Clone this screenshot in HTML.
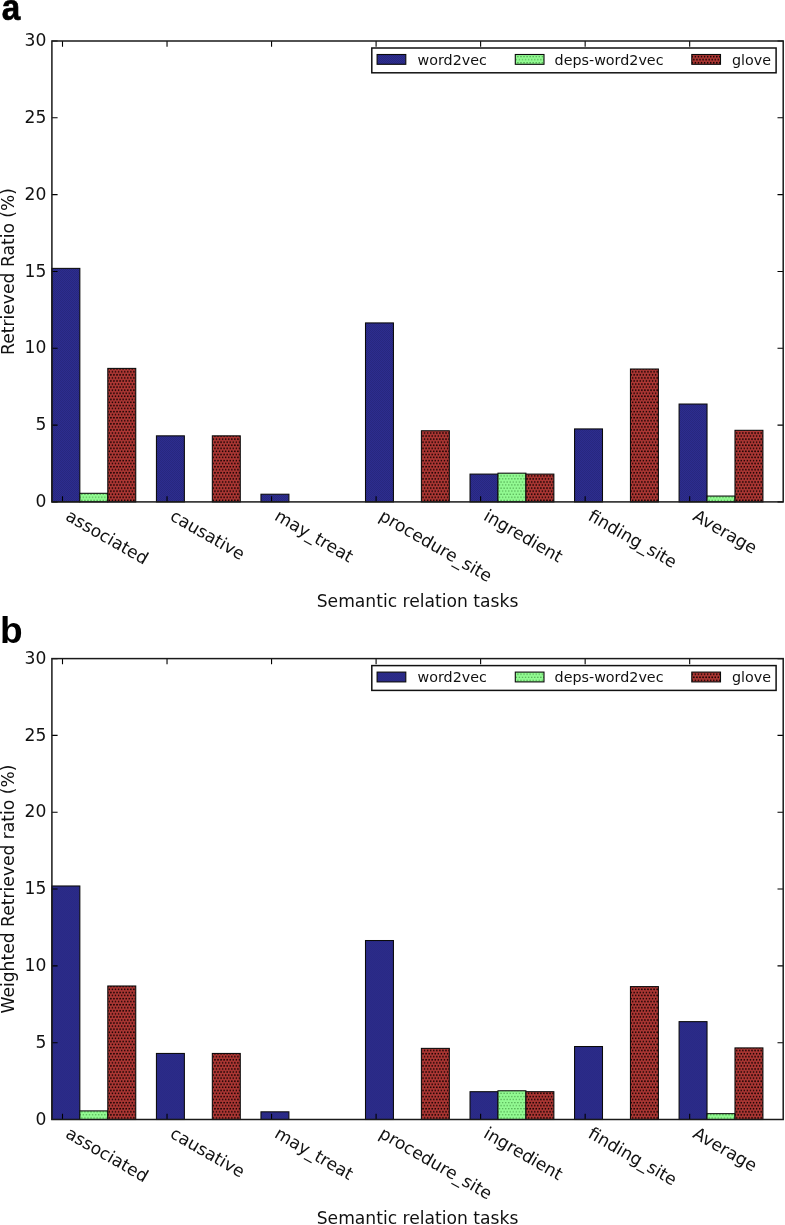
<!DOCTYPE html>
<html><head><meta charset="utf-8"><title>Semantic relation tasks</title>
<style>
html,body{margin:0;padding:0;background:#fff;}
svg{display:block;}
.t12{font-family:"DejaVu Sans","Liberation Sans",sans-serif;font-size:17.15px;fill:#111;}
.t10{font-family:"DejaVu Sans","Liberation Sans",sans-serif;font-size:14.3px;fill:#111;}
.ttl{font-family:"Liberation Sans",sans-serif;font-weight:bold;font-size:36px;fill:#000;}
</style></head><body>
<svg width="785" height="1225" viewBox="0 0 785 1225">
<defs>
<pattern id="hb" width="2" height="2" patternUnits="userSpaceOnUse"><rect width="2" height="2" fill="#2d2d8f"/><rect width="1" height="1" fill="#27277f"/><rect x="1" y="1" width="1" height="1" fill="#27277f"/></pattern>
<pattern id="hr" width="3.06" height="6.12" patternUnits="userSpaceOnUse"><rect width="3.06" height="6.12" fill="#ad3734"/><circle cx="0.77" cy="1.53" r="0.9" fill="#1c0303"/><circle cx="2.3" cy="4.59" r="0.9" fill="#1c0303"/></pattern>
<pattern id="hg" width="3.06" height="6.12" patternUnits="userSpaceOnUse"><rect width="3.06" height="6.12" fill="#92fa92"/><circle cx="0.77" cy="1.53" r="0.58" fill="#338533"/><circle cx="2.3" cy="4.59" r="0.58" fill="#338533"/></pattern>
</defs>
<rect width="785" height="1225" fill="#fff"/>
<g transform="translate(0,0)">
<rect x="51.90" y="268.38" width="27.95" height="233.52" fill="url(#hb)" stroke="#0a0a0a" stroke-width="1.05"/>
<rect x="79.85" y="493.30" width="27.95" height="8.60" fill="url(#hg)" stroke="#0a0a0a" stroke-width="1.05"/>
<rect x="107.80" y="368.39" width="27.95" height="133.51" fill="url(#hr)" stroke="#0a0a0a" stroke-width="1.05"/>
<rect x="156.43" y="435.84" width="27.95" height="66.06" fill="url(#hb)" stroke="#0a0a0a" stroke-width="1.05"/>
<rect x="212.33" y="435.84" width="27.95" height="66.06" fill="url(#hr)" stroke="#0a0a0a" stroke-width="1.05"/>
<rect x="260.96" y="494.22" width="27.95" height="7.68" fill="url(#hb)" stroke="#0a0a0a" stroke-width="1.05"/>
<rect x="365.49" y="322.92" width="27.95" height="178.98" fill="url(#hb)" stroke="#0a0a0a" stroke-width="1.05"/>
<rect x="421.39" y="430.77" width="27.95" height="71.13" fill="url(#hr)" stroke="#0a0a0a" stroke-width="1.05"/>
<rect x="470.02" y="474.09" width="27.95" height="27.81" fill="url(#hb)" stroke="#0a0a0a" stroke-width="1.05"/>
<rect x="497.97" y="473.17" width="27.95" height="28.73" fill="url(#hg)" stroke="#0a0a0a" stroke-width="1.05"/>
<rect x="525.92" y="474.09" width="27.95" height="27.81" fill="url(#hr)" stroke="#0a0a0a" stroke-width="1.05"/>
<rect x="574.55" y="428.92" width="27.95" height="72.98" fill="url(#hb)" stroke="#0a0a0a" stroke-width="1.05"/>
<rect x="630.45" y="369.01" width="27.95" height="132.89" fill="url(#hr)" stroke="#0a0a0a" stroke-width="1.05"/>
<rect x="679.08" y="404.04" width="27.95" height="97.86" fill="url(#hb)" stroke="#0a0a0a" stroke-width="1.05"/>
<rect x="707.03" y="496.06" width="27.95" height="5.84" fill="url(#hg)" stroke="#0a0a0a" stroke-width="1.05"/>
<rect x="734.98" y="430.31" width="27.95" height="71.59" fill="url(#hr)" stroke="#0a0a0a" stroke-width="1.05"/>
<path d="M62.50 501.9 v-5.7 M62.50 41.0 v5.7" stroke="#000" stroke-width="1.1"/>
<path d="M167.03 501.9 v-5.7 M167.03 41.0 v5.7" stroke="#000" stroke-width="1.1"/>
<path d="M271.56 501.9 v-5.7 M271.56 41.0 v5.7" stroke="#000" stroke-width="1.1"/>
<path d="M376.09 501.9 v-5.7 M376.09 41.0 v5.7" stroke="#000" stroke-width="1.1"/>
<path d="M480.62 501.9 v-5.7 M480.62 41.0 v5.7" stroke="#000" stroke-width="1.1"/>
<path d="M585.15 501.9 v-5.7 M585.15 41.0 v5.7" stroke="#000" stroke-width="1.1"/>
<path d="M689.68 501.9 v-5.7 M689.68 41.0 v5.7" stroke="#000" stroke-width="1.1"/>
<path d="M51.9 501.90 h5.7 M783.2 501.90 h-5.7" stroke="#000" stroke-width="1.1"/>
<text class="t12" x="46.3" y="507.10" text-anchor="end">0</text>
<path d="M51.9 425.08 h5.7 M783.2 425.08 h-5.7" stroke="#000" stroke-width="1.1"/>
<text class="t12" x="46.3" y="430.28" text-anchor="end">5</text>
<path d="M51.9 348.27 h5.7 M783.2 348.27 h-5.7" stroke="#000" stroke-width="1.1"/>
<text class="t12" x="46.3" y="353.47" text-anchor="end">10</text>
<path d="M51.9 271.45 h5.7 M783.2 271.45 h-5.7" stroke="#000" stroke-width="1.1"/>
<text class="t12" x="46.3" y="276.65" text-anchor="end">15</text>
<path d="M51.9 194.63 h5.7 M783.2 194.63 h-5.7" stroke="#000" stroke-width="1.1"/>
<text class="t12" x="46.3" y="199.83" text-anchor="end">20</text>
<path d="M51.9 117.82 h5.7 M783.2 117.82 h-5.7" stroke="#000" stroke-width="1.1"/>
<text class="t12" x="46.3" y="123.02" text-anchor="end">25</text>
<path d="M51.9 41.00 h5.7 M783.2 41.00 h-5.7" stroke="#000" stroke-width="1.1"/>
<text class="t12" x="46.3" y="46.20" text-anchor="end">30</text>
<rect x="51.9" y="41.0" width="731.30" height="460.90" fill="none" stroke="#1a1a1a" stroke-width="1.5"/>
<text class="t12" transform="translate(64.45,519.20) rotate(30)">associated</text>
<text class="t12" transform="translate(168.98,519.20) rotate(30)">causative</text>
<text class="t12" transform="translate(273.51,519.20) rotate(30)">may_treat</text>
<text class="t12" transform="translate(378.04,519.20) rotate(30)">procedure_site</text>
<text class="t12" transform="translate(482.57,519.20) rotate(30)">ingredient</text>
<text class="t12" transform="translate(587.10,519.20) rotate(30)">finding_site</text>
<text class="t12" transform="translate(691.63,519.20) rotate(30)">Average</text>
<text class="t12" x="417.55" y="606.5" text-anchor="middle">Semantic relation tasks</text>
<text class="t12" transform="translate(13.6,271.45) rotate(-90)" text-anchor="middle">Retrieved Ratio (%)</text>
<rect x="371.8" y="48.0" width="404.3" height="24.8" fill="#fff" stroke="#111" stroke-width="1.5"/>
<rect x="377.1" y="54.5" width="28.7" height="9.8" fill="url(#hb)" stroke="#0a0a0a" stroke-width="1.1"/>
<text class="t10" x="417.5" y="64.6">word2vec</text>
<rect x="515.3" y="54.5" width="28.7" height="9.8" fill="url(#hg)" stroke="#0a0a0a" stroke-width="1.1"/>
<text class="t10" x="554.6" y="64.6">deps-word2vec</text>
<rect x="691.8" y="54.5" width="28.7" height="9.8" fill="url(#hr)" stroke="#0a0a0a" stroke-width="1.1"/>
<text class="t10" x="732.0" y="64.6">glove</text>
<text class="ttl" transform="translate(1.7,20.2) scale(0.89,1)" style="font-size:37.3px;stroke:#000;stroke-width:0.7px">a</text>
</g>
<g transform="translate(0,617.6)">
<rect x="51.90" y="268.38" width="27.95" height="233.52" fill="url(#hb)" stroke="#0a0a0a" stroke-width="1.05"/>
<rect x="79.85" y="493.30" width="27.95" height="8.60" fill="url(#hg)" stroke="#0a0a0a" stroke-width="1.05"/>
<rect x="107.80" y="368.39" width="27.95" height="133.51" fill="url(#hr)" stroke="#0a0a0a" stroke-width="1.05"/>
<rect x="156.43" y="435.84" width="27.95" height="66.06" fill="url(#hb)" stroke="#0a0a0a" stroke-width="1.05"/>
<rect x="212.33" y="435.84" width="27.95" height="66.06" fill="url(#hr)" stroke="#0a0a0a" stroke-width="1.05"/>
<rect x="260.96" y="494.22" width="27.95" height="7.68" fill="url(#hb)" stroke="#0a0a0a" stroke-width="1.05"/>
<rect x="365.49" y="322.92" width="27.95" height="178.98" fill="url(#hb)" stroke="#0a0a0a" stroke-width="1.05"/>
<rect x="421.39" y="430.77" width="27.95" height="71.13" fill="url(#hr)" stroke="#0a0a0a" stroke-width="1.05"/>
<rect x="470.02" y="474.09" width="27.95" height="27.81" fill="url(#hb)" stroke="#0a0a0a" stroke-width="1.05"/>
<rect x="497.97" y="473.17" width="27.95" height="28.73" fill="url(#hg)" stroke="#0a0a0a" stroke-width="1.05"/>
<rect x="525.92" y="474.09" width="27.95" height="27.81" fill="url(#hr)" stroke="#0a0a0a" stroke-width="1.05"/>
<rect x="574.55" y="428.92" width="27.95" height="72.98" fill="url(#hb)" stroke="#0a0a0a" stroke-width="1.05"/>
<rect x="630.45" y="369.01" width="27.95" height="132.89" fill="url(#hr)" stroke="#0a0a0a" stroke-width="1.05"/>
<rect x="679.08" y="404.04" width="27.95" height="97.86" fill="url(#hb)" stroke="#0a0a0a" stroke-width="1.05"/>
<rect x="707.03" y="496.06" width="27.95" height="5.84" fill="url(#hg)" stroke="#0a0a0a" stroke-width="1.05"/>
<rect x="734.98" y="430.31" width="27.95" height="71.59" fill="url(#hr)" stroke="#0a0a0a" stroke-width="1.05"/>
<path d="M62.50 501.9 v-5.7 M62.50 41.0 v5.7" stroke="#000" stroke-width="1.1"/>
<path d="M167.03 501.9 v-5.7 M167.03 41.0 v5.7" stroke="#000" stroke-width="1.1"/>
<path d="M271.56 501.9 v-5.7 M271.56 41.0 v5.7" stroke="#000" stroke-width="1.1"/>
<path d="M376.09 501.9 v-5.7 M376.09 41.0 v5.7" stroke="#000" stroke-width="1.1"/>
<path d="M480.62 501.9 v-5.7 M480.62 41.0 v5.7" stroke="#000" stroke-width="1.1"/>
<path d="M585.15 501.9 v-5.7 M585.15 41.0 v5.7" stroke="#000" stroke-width="1.1"/>
<path d="M689.68 501.9 v-5.7 M689.68 41.0 v5.7" stroke="#000" stroke-width="1.1"/>
<path d="M51.9 501.90 h5.7 M783.2 501.90 h-5.7" stroke="#000" stroke-width="1.1"/>
<text class="t12" x="46.3" y="507.10" text-anchor="end">0</text>
<path d="M51.9 425.08 h5.7 M783.2 425.08 h-5.7" stroke="#000" stroke-width="1.1"/>
<text class="t12" x="46.3" y="430.28" text-anchor="end">5</text>
<path d="M51.9 348.27 h5.7 M783.2 348.27 h-5.7" stroke="#000" stroke-width="1.1"/>
<text class="t12" x="46.3" y="353.47" text-anchor="end">10</text>
<path d="M51.9 271.45 h5.7 M783.2 271.45 h-5.7" stroke="#000" stroke-width="1.1"/>
<text class="t12" x="46.3" y="276.65" text-anchor="end">15</text>
<path d="M51.9 194.63 h5.7 M783.2 194.63 h-5.7" stroke="#000" stroke-width="1.1"/>
<text class="t12" x="46.3" y="199.83" text-anchor="end">20</text>
<path d="M51.9 117.82 h5.7 M783.2 117.82 h-5.7" stroke="#000" stroke-width="1.1"/>
<text class="t12" x="46.3" y="123.02" text-anchor="end">25</text>
<path d="M51.9 41.00 h5.7 M783.2 41.00 h-5.7" stroke="#000" stroke-width="1.1"/>
<text class="t12" x="46.3" y="46.20" text-anchor="end">30</text>
<rect x="51.9" y="41.0" width="731.30" height="460.90" fill="none" stroke="#1a1a1a" stroke-width="1.5"/>
<text class="t12" transform="translate(64.45,519.20) rotate(30)">associated</text>
<text class="t12" transform="translate(168.98,519.20) rotate(30)">causative</text>
<text class="t12" transform="translate(273.51,519.20) rotate(30)">may_treat</text>
<text class="t12" transform="translate(378.04,519.20) rotate(30)">procedure_site</text>
<text class="t12" transform="translate(482.57,519.20) rotate(30)">ingredient</text>
<text class="t12" transform="translate(587.10,519.20) rotate(30)">finding_site</text>
<text class="t12" transform="translate(691.63,519.20) rotate(30)">Average</text>
<text class="t12" x="417.55" y="606.5" text-anchor="middle">Semantic relation tasks</text>
<text class="t12" transform="translate(13.6,271.45) rotate(-90)" text-anchor="middle">Weighted Retrieved ratio (%)</text>
<rect x="371.8" y="48.0" width="404.3" height="24.8" fill="#fff" stroke="#111" stroke-width="1.5"/>
<rect x="377.1" y="54.5" width="28.7" height="9.8" fill="url(#hb)" stroke="#0a0a0a" stroke-width="1.1"/>
<text class="t10" x="417.5" y="64.6">word2vec</text>
<rect x="515.3" y="54.5" width="28.7" height="9.8" fill="url(#hg)" stroke="#0a0a0a" stroke-width="1.1"/>
<text class="t10" x="554.6" y="64.6">deps-word2vec</text>
<rect x="691.8" y="54.5" width="28.7" height="9.8" fill="url(#hr)" stroke="#0a0a0a" stroke-width="1.1"/>
<text class="t10" x="732.0" y="64.6">glove</text>
<text class="ttl" transform="translate(0,25.1) scale(1.03,1)">b</text>
</g>
</svg>
</body></html>
